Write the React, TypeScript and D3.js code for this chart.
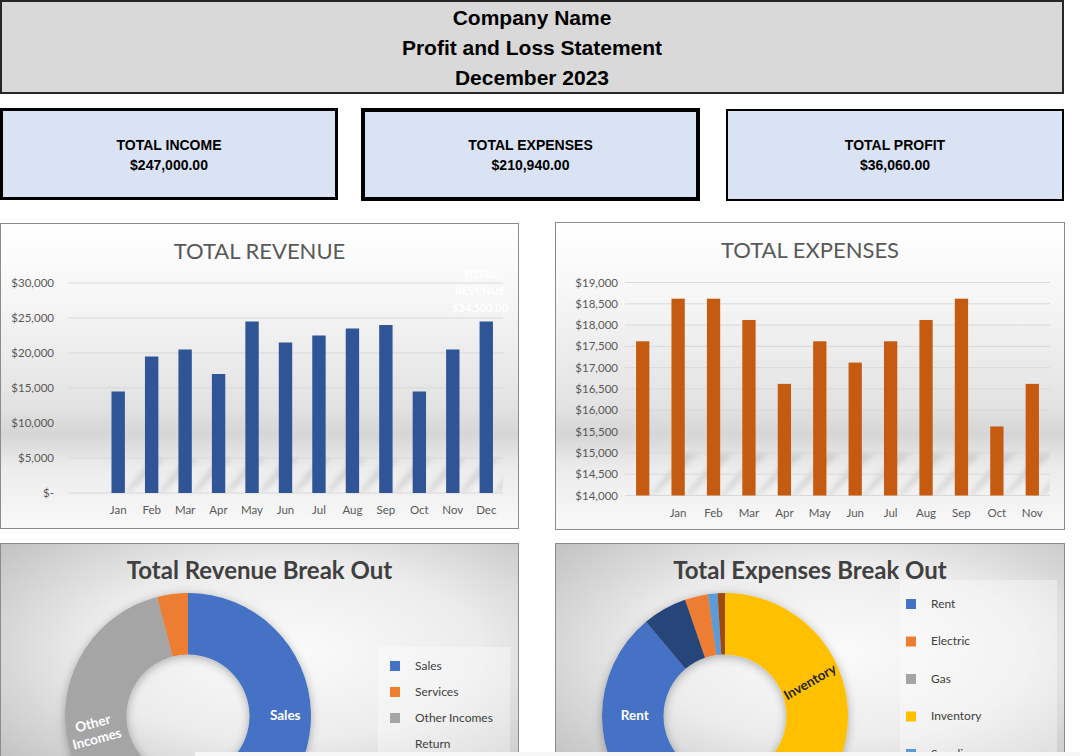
import React from "react";
import * as d3 from "d3";

// ---------- DATA ----------
const headerLines = ["Company Name", "Profit and Loss Statement", "December 2023"];
const kpiLabels = ["TOTAL INCOME", "TOTAL EXPENSES", "TOTAL PROFIT"];
const kpiValues = [247000, 210940, 36060];

const revenueMonths = ["Jan", "Feb", "Mar", "Apr", "May", "Jun", "Jul", "Aug", "Sep", "Oct", "Nov", "Dec"];
const revenueValues = [14500, 19500, 20500, 17000, 24500, 21500, 22500, 23500, 24000, 14500, 20500, 24500];
const revenueTicks = [0, 5000, 10000, 15000, 20000, 25000, 30000];
const revenueHiddenLabel = ["TOTAL", "REVENUE", "$24,500.00"];

const expenseLabels = ["", "Jan", "Feb", "Mar", "Apr", "May", "Jun", "Jul", "Aug", "Sep", "Oct", "Nov"];
const expenseValues = [17620, 18620, 18620, 18120, 16620, 17620, 17120, 17620, 18120, 18620, 15620, 16620];
const expenseTicks = [14000, 14500, 15000, 15500, 16000, 16500, 17000, 17500, 18000, 18500, 19000];

const revenueBreakNames = ["Sales", "Services", "Other Incomes", "Return"];
const revenueBreakValues = [121500, 10000, 115500, 0];
const revenueBreakColors = ["#4472c4", "#ed7d31", "#a5a5a5", "none"];
const revenueSliceOrder = ["Sales", "Return", "Other Incomes", "Services"];

const expenseBreakNames = ["Rent", "Electric", "Gas", "Inventory", "Supplies", "Payroll", "Insurance", "Other"];
const expenseBreakValues = [58600, 6450, 15200, 78500, 2640, 35220, 12300, 2030];
const expenseBreakColors = ["#4472c4", "#ed7d31", "#a5a5a5", "#ffc000", "#5b9bd5", "#70ad47", "#264478", "#9e480e"];
const expenseSliceOrder = ["Inventory", "Gas", "Payroll", "Rent", "Insurance", "Electric", "Supplies", "Other"];
const expenseLegendCount = 5;

// ---------- HELPERS ----------
const fmtMoney = d3.format("$,.2f");
const fmtAxis = (v: number) => (v === 0 ? "$-" : d3.format("$,")(v));
const FONT = "Lato, 'Open Sans', sans-serif";
const HFONT = "'Liberation Sans', Arial, sans-serif";

function BarChart(props: {
  id: string;
  x0: number; y0: number; w: number; h: number; title: string;
  labels: string[]; values: number[]; ticks: number[]; color: string;
  plotL: number; plotR: number; plotT: number; plotB: number; floorTo: number;
  labelX: number; padInner: number;
}) {
  const { labels, values, ticks, color } = props;
  const x = d3.scaleBand<string>().domain(labels.map((l, i) => i + "|" + l))
    .range([props.plotL, props.plotR]).paddingInner(props.padInner).paddingOuter(props.padInner / 2);
  const y = d3.scaleLinear().domain([ticks[0], ticks[ticks.length - 1]]).range([props.plotB, props.plotT]);
  const keys = x.domain();
  const valueKeys = keys.slice(keys.length - values.length);
  const bw = x.bandwidth();
  const floorY = y(props.floorTo);
  const skew = (props.plotB - floorY) * 1.15;
  return (
    <g>
      <defs>
        <clipPath id={props.id + "clip"}>
          <rect x={props.plotL} y={floorY - 2} width={props.plotR - props.plotL} height={props.plotB - floorY + 2} />
        </clipPath>
      </defs>
      <rect x={props.x0} y={props.y0} width={props.w} height={props.h} fill="url(#topBg)" stroke="#8c8c8c" strokeWidth={1} />
      <text x={props.x0 + props.w / 2} y={props.y0 + 35} textAnchor="middle" fontFamily={FONT} fontSize={22} fill="#595959">{props.title}</text>
      {/* floor reflection */}
      <g clipPath={`url(#${props.id}clip)`}>
        <g filter="url(#blurS)">
          {valueKeys.map((k) => {
            const bx = x(k)!;
            return (
              <polygon key={"s" + k}
                points={`${bx + bw},${y(ticks[0])} ${bx + bw + 4},${y(ticks[0])} ${bx + bw + skew},${floorY} ${bx + bw + skew - 14},${floorY}`}
                fill="#bcbcbc" opacity={0.5} />
            );
          })}
        </g>
      </g>
      {ticks.map((t) => (
        <g key={t}>
          <line x1={props.plotL} x2={props.plotR} y1={y(t)} y2={y(t)} stroke="#d9d9d9" strokeWidth={1} />
          <text x={props.labelX} y={y(t)} dy="0.35em" textAnchor="end" fontFamily={FONT} fontSize={11.5} fill="#595959">{fmtAxis(t)}</text>
        </g>
      ))}
      {valueKeys.map((k, i) => (
        <rect key={k} x={x(k)} y={y(values[i])} width={bw} height={y(ticks[0]) - y(values[i])} fill={color} />
      ))}
      {keys.map((k, i) => (
        <text key={"l" + k} x={x(k)! + bw / 2} y={props.plotB + 21} textAnchor="middle" fontFamily={FONT} fontSize={11.5} fill="#595959">{labels[i]}</text>
      ))}
    </g>
  );
}

function Donut(props: {
  x0: number; y0: number; w: number; h: number; title: string; cx: number; cy: number;
  names: string[]; values: number[]; colors: string[]; order: string[];
  legend: { x: number; y: number; w: number; h: number; itemX: number; itemY: number; step: number; count: number };
  labels: { name: string; lines: string[]; rot: number; color: string; dx?: number; dy?: number }[];
}) {
  const data = props.names.map((n, i) => ({ name: n, value: props.values[i], color: props.colors[i] }));
  const pie = d3.pie<{ name: string; value: number; color: string }>()
    .value((d) => d.value)
    .sort((a, b) => props.order.indexOf(a.name) - props.order.indexOf(b.name));
  const arcs = pie(data);
  const arc = d3.arc<d3.PieArcDatum<{ name: string; value: number; color: string }>>().innerRadius(61.5).outerRadius(123);
  const L = props.legend;
  return (
    <g>
      <rect x={props.x0} y={props.y0} width={props.w} height={props.h} fill="url(#botBg)" stroke="#8c8c8c" strokeWidth={1} />
      <rect x={L.x} y={L.y} width={L.w} height={L.h} fill="#ffffff" opacity={0.35} />
      <text x={props.x0 + props.w / 2} y={props.y0 + 35} textAnchor="middle" fontFamily={FONT} fontWeight="bold" fontSize={24} fill="#404040">{props.title}</text>
      <g transform={`translate(${props.cx},${props.cy})`}>
        <g filter="url(#donutShadow)">
          {arcs.filter((a) => a.data.color !== "none").map((a) => (
            <path key={a.data.name} d={arc(a)!} fill={a.data.color} />
          ))}
        </g>
        {props.labels.map((lb) => {
          const a = arcs.find((q) => q.data.name === lb.name)!;
          const [lx, ly] = arc.centroid(a);
          const px = lx + (lb.dx || 0), py = ly + (lb.dy || 0);
          return (
            <text key={lb.name} transform={`translate(${px},${py}) rotate(${lb.rot})`} textAnchor="middle"
              fontFamily={FONT} fontWeight="bold" fontSize={13.5} fill={lb.color}>
              {lb.lines.map((ln, j) => (
                <tspan key={j} x={0} y={(j - (lb.lines.length - 1) / 2) * 16} dy="0.35em">{ln}</tspan>
              ))}
            </text>
          );
        })}
      </g>
      {data.slice(0, L.count).map((d, i) => (
        <g key={d.name}>
          {d.color !== "none" && <rect x={L.itemX} y={L.itemY + i * L.step - 4.5} width={10} height={10} fill={d.color} />}
          <text x={L.itemX + 25} y={L.itemY + i * L.step} dy="0.35em" fontFamily={FONT} fontSize={12} fill="#404040">{d.name}</text>
        </g>
      ))}
    </g>
  );
}

export default function App() {
  const kpiBoxes = [
    { x: 1.5, y: 109.5, w: 335, h: 89, sw: 3 },
    { x: 363, y: 110, w: 335, h: 89, sw: 4 },
    { x: 727, y: 110, w: 336, h: 90, sw: 2 },
  ];
  return (
    <svg width={1080} height={756} style={{ position: "absolute", left: 0, top: 0, background: "#fff" }}>
      <defs>
        <linearGradient id="topBg" x1="0" y1="0" x2="0" y2="1">
          <stop offset="0" stopColor="#ffffff" />
          <stop offset="0.25" stopColor="#f6f6f6" />
          <stop offset="0.6" stopColor="#e2e2e2" />
          <stop offset="0.69" stopColor="#d6d6d6" />
          <stop offset="0.8" stopColor="#ececec" />
          <stop offset="1" stopColor="#f9f9f9" />
        </linearGradient>
        <radialGradient id="botBg" cx="0.55" cy="0.45" r="0.75">
          <stop offset="0" stopColor="#fbfbfb" />
          <stop offset="0.5" stopColor="#ececec" />
          <stop offset="1" stopColor="#bdbdbd" />
        </radialGradient>
        <filter id="donutShadow" x="-30%" y="-30%" width="160%" height="160%">
          <feDropShadow dx="0" dy="2" stdDeviation="5" floodColor="#000" floodOpacity="0.3" />
        </filter>
        <filter id="blurS" x="-20%" y="-50%" width="140%" height="200%">
          <feGaussianBlur stdDeviation="2.5" />
        </filter>
      </defs>

      {/* Header */}
      <rect x={1} y={1} width={1062} height={92} fill="#d9d9d9" stroke="#262626" strokeWidth={2} />
      {headerLines.map((t, i) => (
        <text key={t} x={532} y={25 + i * 30} textAnchor="middle" fontFamily={HFONT} fontWeight="bold" fontSize={21} fill="#000">{t}</text>
      ))}

      {/* KPI boxes */}
      {kpiBoxes.map((b, i) => (
        <g key={i}>
          <rect x={b.x} y={b.y} width={b.w} height={b.h} fill="#dae3f3" stroke="#000" strokeWidth={b.sw} />
          <text x={b.x + b.w / 2} y={150} textAnchor="middle" fontFamily={HFONT} fontWeight="bold" fontSize={14} fill="#000">{kpiLabels[i]}</text>
          <text x={b.x + b.w / 2} y={170} textAnchor="middle" fontFamily={HFONT} fontWeight="bold" fontSize={14} fill="#000">{fmtMoney(kpiValues[i])}</text>
        </g>
      ))}

      <BarChart id="rev" x0={0.5} y0={223.5} w={518} h={305} title="TOTAL REVENUE"
        labels={["", ...revenueMonths]} values={revenueValues} ticks={revenueTicks} color="#2f5597"
        plotL={68} plotR={503} plotT={283} plotB={493} floorTo={5000} labelX={54} padInner={0.6} />
      {revenueHiddenLabel.map((t, i) => (
        <text key={t} x={480} y={274 + i * 17} dy="0.35em" textAnchor="middle" fontFamily={FONT} fontWeight="bold" fontSize={11} fill="#ffffff">{t}</text>
      ))}

      <BarChart id="exp" x0={555.5} y0={222.5} w={509} h={307} title="TOTAL EXPENSES"
        labels={expenseLabels} values={expenseValues} ticks={expenseTicks} color="#c55a11"
        plotL={625} plotR={1050} plotT={282.5} plotB={495.5} floorTo={15000} labelX={618} padInner={0.625} />

      <Donut x0={0.5} y0={543.5} w={518} h={240} title="Total Revenue Break Out" cx={188} cy={716}
        names={revenueBreakNames} values={revenueBreakValues} colors={revenueBreakColors} order={revenueSliceOrder}
        legend={{ x: 378, y: 647, w: 132, h: 120, itemX: 390, itemY: 665.5, step: 26, count: 4 }}
        labels={[
          { name: "Sales", lines: ["Sales"], rot: 0, color: "#ffffff", dx: 5, dy: 2 },
          { name: "Other Incomes", lines: ["Other", "Incomes"], rot: -15, color: "#ffffff", dx: -2, dy: 1 },
        ]} />

      <Donut x0={555.5} y0={543.5} w={509} h={240} title="Total Expenses Break Out" cx={725} cy={716}
        names={expenseBreakNames} values={expenseBreakValues} colors={expenseBreakColors} order={expenseSliceOrder}
        legend={{ x: 900, y: 580, w: 157, h: 190, itemX: 906, itemY: 603.5, step: 37.5, count: expenseLegendCount }}
        labels={[
          { name: "Rent", lines: ["Rent"], rot: 0, color: "#ffffff", dx: 2, dy: -1 },
          { name: "Inventory", lines: ["Inventory"], rot: -30, color: "#262626", dx: 0, dy: 2 },
        ]} />

      {/* bottom strip */}
      <rect x={195} y={752} width={885} height={4} fill="#f7f7f7" />
    </svg>
  );
}
